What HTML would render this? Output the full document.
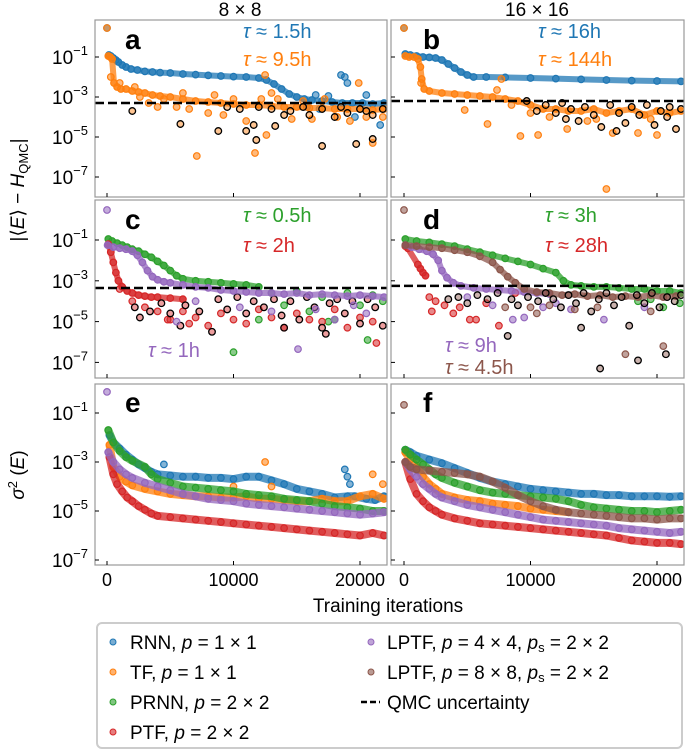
<!DOCTYPE html>
<html><head><meta charset="utf-8"><title>Training convergence chart</title>
<style>
html,body{margin:0;padding:0;background:#fff;}
svg{display:block;font-family:"Liberation Sans","DejaVu Sans",sans-serif;}
</style></head>
<body>
<svg id="chart" width="685" height="754" viewBox="0 0 685 754" xmlns="http://www.w3.org/2000/svg">
<text x="240" y="16" font-size="19" text-anchor="middle">8 × 8</text>
<text x="537" y="16" font-size="19" text-anchor="middle">16 × 16</text>
<text transform="translate(24,190) rotate(-90)" font-size="19" text-anchor="middle">|⟨<tspan font-style="italic">E</tspan>⟩ − <tspan font-style="italic">H</tspan><tspan font-size="13" dy="4">QMC</tspan><tspan dy="-4">|</tspan></text>
<text transform="translate(24,475) rotate(-90)" font-size="19" text-anchor="middle"><tspan font-style="italic">σ</tspan><tspan font-size="13" dy="-7">2</tspan><tspan dy="7"> (</tspan><tspan font-style="italic">E</tspan>)</text>
<text x="388" y="612" font-size="19" text-anchor="middle">Training iterations</text>
<g id="panels"></g>
<g>
<rect x="97" y="623" width="585" height="125" rx="5" fill="#fff" stroke="#ccc" stroke-width="2"/>
<g><circle cx="113" cy="642" r="3" fill="#1f77b4" fill-opacity="0.6" stroke="#1f77b4"/><text x="130" y="649" font-size="19">RNN, <tspan font-style="italic">p</tspan> = 1 × 1</text></g>
<g><circle cx="113" cy="672" r="3" fill="#ff7f0e" fill-opacity="0.6" stroke="#ff7f0e"/><text x="130" y="679" font-size="19">TF, <tspan font-style="italic">p</tspan> = 1 × 1</text></g>
<g><circle cx="113" cy="702" r="3" fill="#2ca02c" fill-opacity="0.6" stroke="#2ca02c"/><text x="130" y="709" font-size="19">PRNN, <tspan font-style="italic">p</tspan> = 2 × 2</text></g>
<g><circle cx="113" cy="732" r="3" fill="#d62728" fill-opacity="0.6" stroke="#d62728"/><text x="130" y="739" font-size="19">PTF, <tspan font-style="italic">p</tspan> = 2 × 2</text></g>
<g><circle cx="371" cy="642" r="3" fill="#9467bd" fill-opacity="0.6" stroke="#9467bd"/><text x="387" y="649" font-size="19">LPTF, <tspan font-style="italic">p</tspan> = 4 × 4, <tspan font-style="italic">p</tspan><tspan font-size="13" dy="3">s</tspan><tspan dy="-3"> = 2 × 2</tspan></text></g>
<g><circle cx="371" cy="672" r="3" fill="#8c564b" fill-opacity="0.6" stroke="#8c564b"/><text x="387" y="679" font-size="19">LPTF, <tspan font-style="italic">p</tspan> = 8 × 8, <tspan font-style="italic">p</tspan><tspan font-size="13" dy="3">s</tspan><tspan dy="-3"> = 2 × 2</tspan></text></g>
<g><line x1="361" y1="702" x2="380" y2="702" stroke="#000" stroke-width="2.5" stroke-dasharray="6,3"/><text x="387" y="709" font-size="19">QMC uncertainty</text></g>
</g>
</svg>
<script>
// ---------- data (iterations in thousands, values as log10) ----------
const xTicks=[0,10,20];
const xTickLabels=["0","10000","20000"];
const yTicks=[-1,-3,-5,-7];
const yTickLabels=["−1","−3","−5","−7"];
const qmcLevels={a:-3.3,b:-3.2,c:-3.35,d:-3.25};

const aRNNcurve=[[0.15,-0.9],[0.3,-0.95],[0.5,-1.05],[0.7,-1.15],[0.9,-1.25],[1.2,-1.4],[1.5,-1.5],[1.9,-1.6],[2.4,-1.65],[3,-1.72],[3.6,-1.75],[4.2,-1.78],[5,-1.8],[6,-1.85],[7,-1.88],[8,-1.92],[9,-1.95],[10,-1.98],[11,-2.0],[12,-2.05],[12.6,-2.15],[13.2,-2.35],[13.8,-2.6],[14.4,-2.85],[15,-3.0],[15.6,-3.1],[16.2,-3.15],[17,-3.2],[17.8,-3.25],[18.6,-3.3],[19.4,-3.3],[20.2,-3.3],[21,-3.35],[21.9,-3.3]];
const aRNNscatter=[[0,0.45],[18.5,-1.9],[18.8,-2.0],[19.0,-2.3],[16.5,-2.9],[17.5,-2.95],[20.5,-2.9],[19.6,-4.0],[21.6,-4.4],[15.8,-3.5],[16.8,-3.6]];
const aTFcurve=[[0.1,-0.95],[0.25,-1.0],[0.4,-1.1],[0.55,-2.3],[0.8,-2.5],[1.1,-2.6],[1.5,-2.6],[2,-2.7],[2.5,-2.75],[3,-2.8],[3.6,-2.9],[4.2,-2.95],[5,-3.0],[6,-3.1],[7,-3.2],[8,-3.25],[9,-3.3],[10,-3.35],[11,-3.4],[12,-3.4],[13,-3.45],[14,-3.5],[15,-3.5],[16,-3.55],[17,-3.55],[18,-3.6],[19,-3.6],[20,-3.6],[21,-3.65],[21.9,-3.6]];
const aTFscatter=[[0,0.45],[0.3,-2.0],[1.0,-2.3],[2.2,-2.5],[3.3,-3.3],[4.0,-3.5],[5.5,-3.5],[6.5,-3.6],[7.1,-5.95],[8,-3.8],[9.2,-3.9],[10,-3.1],[11.7,-5.8],[11,-4.2],[12.5,-1.9],[13.5,-3.1],[12.6,-4.9],[14.6,-4.1],[15.5,-3.2],[16.2,-4.1],[17.2,-3.1],[18.2,-4.0],[19.2,-4.2],[19.9,-2.3],[20.5,-4.0],[21.0,-5.3],[21.8,-4.0],[2.6,-3.0],[4.5,-3.1],[6,-2.8],[8.5,-2.9],[12.2,-3.1],[13,-2.8]];
const aNeg=[[2.0,-3.7],[5.8,-4.35],[8.8,-4.7],[11.0,-4.7],[11.6,-4.4],[11.8,-5.15],[13.3,-4.45],[17.0,-5.45],[19.7,-5.35],[21.0,-5.1],[9.5,-3.5],[10.5,-3.6],[12.0,-3.5],[13.0,-3.6],[14.5,-3.7],[15.5,-3.5],[16.0,-3.9],[17.0,-3.6],[18.0,-4.0],[18.5,-3.5],[19.0,-3.8],[20.0,-3.6],[21.0,-3.9],[21.8,-3.6],[14.0,-3.9],[20.5,-3.7]];

const bRNNcurve=[[0.1,-0.85],[0.5,-0.9],[1,-0.95],[1.5,-1.0],[2,-1.02],[2.5,-1.05],[3,-1.15],[3.5,-1.35],[4,-1.55],[4.5,-1.75],[5,-1.9],[5.5,-2.0],[6.5,-2.0],[8,-2.02],[10,-2.05],[12,-2.08],[14,-2.12],[16,-2.15],[18,-2.18],[20,-2.2],[21.9,-2.22]];
const bRNNscatter=[[0,0.45]];
const bTFcurve=[[0.1,-0.95],[0.4,-1.0],[0.8,-1.0],[1.1,-1.1],[1.3,-1.5],[1.4,-2.1],[1.6,-2.6],[2,-2.7],[3,-2.8],[4,-2.85],[5,-2.9],[6,-2.95],[7,-3.0],[8,-3.1],[9,-3.2],[10,-3.4],[11,-3.6],[12,-3.6],[13,-3.7],[14,-3.7],[15,-3.6],[16,-3.8],[17,-3.7],[18,-3.6],[19,-3.9],[20,-3.7],[21,-3.8],[21.9,-3.7]];
const bTFscatter=[[0,0.45],[1.35,-2.3],[4.8,-3.65],[6.6,-4.35],[7.35,-2.65],[7.7,-2.1],[9.2,-4.95],[10.6,-4.9],[12.9,-4.6],[16,-7.6],[11.5,-4.0],[14.5,-4.2],[16.5,-4.8],[18.5,-4.8],[20,-4.9],[8.5,-3.4],[10,-3.8],[15.2,-4.1],[19.5,-4.1]];
const bNeg=[[9.7,-3.2],[10.5,-3.7],[11.2,-3.4],[12,-3.8],[12.5,-3.3],[13.2,-3.6],[13.8,-4.2],[14.3,-3.5],[15,-3.9],[15.6,-4.5],[16.3,-3.4],[17,-3.8],[17.5,-4.3],[18,-3.5],[18.6,-3.9],[19.2,-3.4],[19.8,-4.4],[20.3,-3.7],[21,-3.5],[21.5,-4.6],[21.9,-3.6],[16.8,-4.7],[12.8,-4.1],[20.8,-4.0]];

const cPRNNcurve=[[0.1,-0.95],[0.4,-1.05],[0.8,-1.15],[1.2,-1.25],[1.6,-1.35],[2,-1.45],[2.5,-1.55],[3,-1.7],[3.5,-1.85],[4,-2.05],[4.5,-2.25],[5,-2.5],[5.5,-2.75],[6,-2.9],[7,-3.0],[8,-3.05],[9,-3.1],[10,-3.15],[11,-3.2],[12,-3.3]];
const cPRNNscatter=[[10,-6.5],[13,-3.6],[14,-4.2],[15,-3.5],[16,-4.5],[17,-3.8],[18,-4.9],[19,-3.6],[20,-4.2],[21,-3.7],[21.8,-4.0],[12,-4.9],[17.5,-5.0],[20.6,-5.9]];
const cPTFcurve=[[0.1,-1.2],[0.3,-1.6],[0.5,-2.1],[0.7,-2.6],[0.9,-3.0],[1.2,-3.3],[1.6,-3.5],[2,-3.6],[2.5,-3.7],[3,-3.75],[3.5,-3.8],[4,-3.8],[5,-3.85],[6,-3.9]];
const cPTFscatter=[[1,-3.4],[2,-4.0],[3,-4.3],[4,-4.5],[5,-4.9],[6,-4.5],[7,-4.8],[8,-5.2],[9,-4.6],[10,-4.9],[11,-5.1],[12,-4.4],[13,-4.8],[14,-5.3],[15,-4.6],[16,-4.9],[17,-5.0],[18,-4.4],[19,-5.3],[20,-4.8],[21,-5.0],[21.3,-6.05],[4.8,-4.9],[6.5,-5.1]];
const cLPTFcurve=[[0.05,-1.25],[0.5,-1.35],[1,-1.4],[1.5,-1.45],[2,-1.55],[2.4,-1.75],[2.8,-2.1],[3.2,-2.5],[3.6,-2.8],[4,-2.95],[4.5,-3.05],[5,-3.1],[6,-3.2],[7,-3.3],[8,-3.35],[9,-3.45],[10,-3.5],[11,-3.55],[12,-3.6],[13,-3.6],[14,-3.65],[15,-3.6],[16,-3.7],[17,-3.65],[18,-3.7],[19,-3.75],[20,-3.7],[21,-3.75],[21.9,-3.8]];
const cLPTFscatter=[[0,0.47],[15.1,-6.35],[16.5,-4.4],[18,-4.9],[19.5,-4.2],[20.5,-4.6],[13,-4.5],[10.5,-4.3],[7,-4.0],[5.5,-5.0]];
const cNeg=[[2.2,-4.3],[2.6,-4.8],[3.4,-4.5],[4.3,-4.1],[5.0,-4.6],[5.8,-5.2],[6.2,-4.2],[7.3,-4.5],[8.3,-5.5],[8.8,-3.9],[9.5,-4.4],[10.3,-3.8],[11,-4.6],[11.6,-4.0],[12.4,-4.3],[13.2,-3.9],[13.8,-4.7],[14.5,-4.0],[15.2,-4.9],[15.8,-3.8],[16.4,-4.3],[17,-5.3],[17.6,-4.1],[18.2,-3.9],[18.8,-4.6],[19.4,-4.0],[20,-5.1],[20.6,-3.9],[21.2,-4.3],[21.8,-5.2],[17.3,-5.6],[14.0,-5.3]];

const dPRNNcurve=[[0.1,-0.95],[1,-1.05],[2,-1.12],[3,-1.2],[4,-1.3],[5,-1.45],[6,-1.6],[7,-1.75],[8,-1.9],[9,-2.05],[10,-2.2],[11,-2.4],[12,-2.6],[12.6,-3.0],[13.2,-3.2],[14,-3.25],[15,-3.3],[16,-3.3],[17,-3.35],[18,-3.4],[19,-3.4],[20,-3.5],[21,-3.5],[21.9,-3.6]];
const dPRNNscatter=[[20.5,-4.3],[21.8,-4.1],[19.5,-3.9],[18.5,-4.0]];
const dPTFcurve=[[0.1,-1.3],[0.3,-1.4],[1.1,-2.2],[1.3,-2.4],[1.5,-2.6],[1.7,-2.75]];
const dPTFscatter=[[2.0,-3.8],[2.5,-4.0],[2.2,-4.5],[3.2,-4.2],[3.9,-4.6],[4.4,-4.3],[5.2,-4.9],[5.7,-4.9],[6.5,-4.1],[7.5,-5.2],[8.8,-3.6]];
const dLPTF44curve=[[0.1,-1.25],[0.6,-1.35],[1.2,-1.45],[1.8,-1.55],[2.3,-1.7],[2.7,-2.0],[3.0,-2.5],[3.4,-2.85],[3.9,-3.1],[4.5,-3.25],[5.5,-3.35],[6.5,-3.4],[7.5,-3.45],[8.5,-3.5],[9.5,-3.55],[10.5,-3.6],[11.5,-3.65]];
const dLPTF44scatter=[[5,-3.8],[7,-4.2],[8.6,-4.9],[9.5,-4.8],[11,-4.3],[12,-4.1],[13.2,-4.4],[15.8,-4.9],[19,-4.3]];
const dLPTF88curve=[[0.1,-1.25],[1,-1.3],[2,-1.35],[3,-1.4],[4,-1.5],[5,-1.6],[6,-1.8],[7,-2.1],[7.6,-2.45],[8.2,-2.8],[8.8,-3.1],[9.5,-3.4],[10.5,-3.55],[11.5,-3.6],[12.5,-3.7],[13.5,-3.65],[14.5,-3.75],[15.5,-3.7],[16.5,-3.8],[17.5,-3.75],[18.5,-3.8],[19.5,-3.7],[20.5,-3.8],[21.5,-3.75]];
const dLPTF88scatter=[[0,0.47],[10,-4.3],[10.5,-4.6],[11.5,-4.2],[13.5,-4.4],[15.3,-4.3],[17.5,-6.6],[19.5,-4.5],[8,-4.3],[20.5,-6.2]];
const dNeg=[[3.5,-3.9],[4.3,-3.8],[5,-4.1],[5.8,-3.7],[6.6,-3.9],[7.4,-3.6],[8.5,-3.9],[9,-4.2],[9.8,-3.8],[10.6,-4.0],[11.2,-3.6],[11.8,-3.9],[12.4,-4.3],[13,-3.7],[13.6,-4.1],[14.2,-3.6],[14.8,-4.5],[15.4,-3.9],[16,-3.6],[16.6,-4.2],[17.2,-3.8],[17.8,-5.2],[18.4,-3.7],[19,-4.1],[19.6,-3.6],[20.2,-4.3],[20.8,-3.8],[21.4,-4.0],[21.9,-3.7],[15.5,-7.3],[18.5,-6.9],[20.7,-6.6],[8.2,-5.7],[14,-5.3]];

const eStart=[[0,-0.14]];
const eRNN=[[0.2,-1.9],[0.5,-2.2],[1,-2.45],[1.5,-2.7],[2,-2.9],[2.5,-3.1],[3,-3.25],[3.5,-3.4],[4,-3.5],[5,-3.55],[6,-3.6],[7,-3.6],[8,-3.65],[9,-3.65],[10,-3.7],[11,-3.6],[12,-3.6],[13,-3.75],[14,-3.9],[15,-4.1],[16,-4.2],[17,-4.3],[18,-4.45],[19,-4.4],[19.6,-4.4],[20.5,-4.5],[21.2,-4.55],[21.9,-4.4]];
const eRNNscatter=[[18.8,-3.3],[19.0,-3.6],[19.2,-3.9],[4.5,-3.1]];
const eTF=[[0.2,-2.3],[0.5,-3.2],[1,-3.6],[1.5,-3.8],[2,-3.95],[3,-4.1],[4,-4.2],[5,-4.3],[6,-4.35],[7,-4.4],[8,-4.4],[9,-4.45],[10,-4.45],[11,-4.4],[12,-4.5],[13,-4.5],[14,-4.55],[15,-4.6],[16,-4.6],[17,-4.5],[18,-4.6],[19,-4.6],[20,-4.4],[21,-4.3],[21.9,-4.5]];
const eTFscatter=[[12.5,-3.0],[21.0,-3.5],[21.8,-3.9],[10,-4.0],[13,-4.0]];
const ePRNN=[[0.1,-1.7],[0.5,-2.2],[1,-2.55],[1.5,-2.8],[2,-2.95],[3,-3.2],[3.5,-3.5],[4,-3.7],[5,-3.85],[6,-4.0],[7,-4.05],[8,-4.1],[9,-4.15],[10,-4.2],[11,-4.3],[12,-4.35],[13,-4.4],[14,-4.5],[15,-4.55],[16,-4.6],[17,-4.7],[18,-4.8],[19,-4.85],[20,-4.9],[21,-5.0],[21.9,-5.0]];
const ePTF=[[0.2,-2.8],[0.5,-3.5],[0.8,-3.9],[1.2,-4.2],[1.6,-4.45],[2,-4.6],[2.5,-4.8],[3,-4.95],[3.5,-5.1],[4,-5.2],[5,-5.25],[6,-5.3],[7,-5.35],[8,-5.4],[9,-5.45],[10,-5.5],[11,-5.55],[12,-5.6],[13,-5.65],[14,-5.7],[15,-5.75],[16,-5.8],[17,-5.85],[18,-5.9],[19,-5.95],[20,-6.0],[21,-5.9],[21.9,-6.0]];
const eLPTF=[[0.1,-2.6],[0.5,-3.0],[1,-3.3],[1.5,-3.5],[2,-3.65],[3,-3.85],[4,-4.0],[5,-4.15],[6,-4.3],[7,-4.4],[8,-4.5],[9,-4.55],[10,-4.6],[11,-4.7],[12,-4.75],[13,-4.8],[14,-4.85],[15,-4.9],[16,-4.95],[17,-5.0],[18,-5.05],[19,-5.1],[20,-5.15],[21,-5.1],[21.9,-5.05]];

const fStart=[[0,-0.67]];
const fRNN=[[0.1,-2.5],[0.5,-2.6],[1,-2.75],[2,-2.9],[3,-3.05],[4,-3.25],[5,-3.45],[6,-3.65],[7,-3.8],[8,-3.9],[9,-4.0],[10,-4.1],[11,-4.15],[12,-4.2],[13,-4.25],[14,-4.3],[15,-4.3],[16,-4.35],[17,-4.35],[18,-4.4],[19,-4.4],[20,-4.4],[21,-4.42],[21.9,-4.4]];
const fTF=[[0.1,-2.6],[0.5,-2.9],[1,-3.2],[1.5,-3.6],[2,-3.9],[2.5,-4.1],[3,-4.3],[4,-4.45],[5,-4.55],[6,-4.6],[7,-4.7],[8,-4.75],[9,-4.8],[10,-4.9],[11,-4.95],[12,-5.0],[13,-5.05]];
const fPRNN=[[0.1,-2.5],[0.5,-2.7],[1,-2.9],[1.5,-3.1],[2,-3.3],[2.5,-3.5],[3,-3.65],[4,-3.85],[5,-4.0],[6,-4.15],[7,-4.25],[8,-4.3],[9,-4.35],[10,-4.4],[11,-4.45],[12,-4.5],[13,-4.6],[14,-4.75],[15,-4.85],[16,-4.9],[17,-4.95],[18,-5.0],[19,-5.0],[20,-5.05],[21,-5.0],[21.9,-4.95]];
const fPTF=[[0.1,-3.0],[0.5,-3.7],[1,-4.3],[1.5,-4.6],[2,-4.85],[2.5,-5.0],[3,-5.15],[4,-5.3],[5,-5.4],[6,-5.5],[7,-5.55],[8,-5.6],[9,-5.65],[10,-5.7],[11,-5.75],[12,-5.8],[13,-5.85],[14,-5.9],[15,-5.95],[16,-6.0],[17,-6.1],[18,-6.2],[19,-6.25],[20,-6.3],[21,-6.3],[21.9,-6.35]];
const fLPTF44=[[0.1,-3.0],[0.5,-3.3],[1,-3.6],[1.5,-3.9],[2,-4.1],[2.5,-4.3],[3,-4.45],[4,-4.6],[5,-4.75],[6,-4.85],[7,-4.95],[8,-5.05],[9,-5.15],[10,-5.25],[11,-5.35],[12,-5.4],[13,-5.45],[14,-5.5],[15,-5.55],[16,-5.6],[17,-5.7],[18,-5.75],[19,-5.8],[20,-5.85],[21,-5.9],[21.9,-5.85]];
const fLPTF88=[[0.1,-3.0],[0.5,-3.2],[1,-3.3],[2,-3.35],[3,-3.4],[4,-3.45],[5,-3.5],[6,-3.6],[7,-3.8],[8,-4.05],[9,-4.35],[10,-4.6],[11,-4.8],[12,-4.95],[13,-5.05],[14,-5.1],[15,-5.15],[16,-5.2],[17,-5.25],[18,-5.3],[19,-5.3],[20,-5.35],[21,-5.3],[21.9,-5.3]];

// ---------- layout ----------
const C={blue:"#1f77b4",orange:"#ff7f0e",green:"#2ca02c",red:"#d62728",purple:"#9467bd",brown:"#8c564b"};
const panels=[
 {id:"a",left:95,right:387,top:20,bottom:197,x0:107,y1:57,ppd:20,yLabels:true},
 {id:"b",left:391,right:684,top:20,bottom:197,x0:404,y1:57,ppd:20,yLabels:false},
 {id:"c",left:95,right:387,top:200,bottom:378,x0:107,y1:240,ppd:20.4,yLabels:true},
 {id:"d",left:391,right:684,top:200,bottom:378,x0:404,y1:240,ppd:20.4,yLabels:false},
 {id:"e",left:95,right:387,top:384,bottom:565,x0:107,y1:413,ppd:24.5,yLabels:true,xLabels:true},
 {id:"f",left:391,right:684,top:384,bottom:565,x0:404,y1:413,ppd:24.5,yLabels:false,xLabels:true}
];
const series={
 a:[{n:"rnn",c:C.blue,curve:aRNNcurve,sc:aRNNscatter},{n:"tf",c:C.orange,curve:aTFcurve,sc:aTFscatter,neg:aNeg}],
 b:[{n:"rnn",c:C.blue,curve:bRNNcurve,sc:bRNNscatter},{n:"tf",c:C.orange,curve:bTFcurve,sc:bTFscatter,neg:bNeg}],
 c:[{n:"prnn",c:C.green,curve:cPRNNcurve,sc:cPRNNscatter},{n:"ptf",c:C.red,curve:cPTFcurve,sc:cPTFscatter,neg:cNeg},{n:"lptf",c:C.purple,curve:cLPTFcurve,sc:cLPTFscatter}],
 d:[{n:"prnn",c:C.green,curve:dPRNNcurve,sc:dPRNNscatter},{n:"ptf",c:C.red,curve:dPTFcurve,sc:dPTFscatter},{n:"lptf44",c:C.purple,curve:dLPTF44curve,sc:dLPTF44scatter},{n:"lptf88",c:C.brown,curve:dLPTF88curve,sc:dLPTF88scatter,neg:dNeg}],
 e:[{n:"rnn",c:C.blue,curve:eRNN,sc:eRNNscatter},{n:"tf",c:C.orange,curve:eTF,sc:eTFscatter},{n:"prnn",c:C.green,curve:ePRNN,sc:[]},{n:"ptf",c:C.red,curve:ePTF,sc:[]},{n:"lptf",c:C.purple,curve:eLPTF,sc:eStart}],
 f:[{n:"rnn",c:C.blue,curve:fRNN,sc:[]},{n:"tf",c:C.orange,curve:fTF,sc:[]},{n:"prnn",c:C.green,curve:fPRNN,sc:[]},{n:"ptf",c:C.red,curve:fPTF,sc:[]},{n:"lptf44",c:C.purple,curve:fLPTF44,sc:[]},{n:"lptf88",c:C.brown,curve:fLPTF88,sc:fStart}]
};
const labels={
 a:[["τ ≈ 1.5h",243,38,C.blue],["τ ≈ 9.5h",243,66,C.orange]],
 b:[["τ ≈ 16h",538,38,C.blue],["τ ≈ 144h",538,66,C.orange]],
 c:[["τ ≈ 0.5h",243,222,C.green],["τ ≈ 2h",243,252,C.red],["τ ≈ 1h",148,357,C.purple]],
 d:[["τ ≈ 3h",545,222,C.green],["τ ≈ 28h",545,252,C.red],["τ ≈ 9h",445,352,C.purple],["τ ≈ 4.5h",445,374,C.brown]]
};
const NS="http://www.w3.org/2000/svg";
const svg=document.getElementById("chart");
const root=document.getElementById("panels");
function el(t,a,parent){const e=document.createElementNS(NS,t);for(const k in a)e.setAttribute(k,a[k]);parent.appendChild(e);return e;}
function sx(p,k){return p.x0+k*12.65;}
function sy(p,l){return p.y1-(l+1)*p.ppd;}
const defs=el("defs",{},svg);
panels.forEach(p=>{
 const cp=el("clipPath",{id:"clip-"+p.id},defs);
 el("rect",{x:p.left,y:p.top,width:p.right-p.left,height:p.bottom-p.top},cp);
 const g=el("g",{},root);
 
 
 const plot=el("g",{"clip-path":"url(#clip-"+p.id+")"},g);
 
 
 const ss=series[p.id];
 ss.forEach(s=>{
  const sg=el("g",{},plot);
  
  
  const pts=s.curve.map(d=>sx(p,d[0]).toFixed(1)+","+sy(p,d[1]).toFixed(1)).join(" ");
  const band=el("polyline",{points:pts,fill:"none",stroke:s.c,"stroke-opacity":"0.75","stroke-width":p.id==="e"||p.id==="f"?"8":"6","stroke-linejoin":"round","stroke-linecap":"round"},sg);
  
  
  s.curve.concat(s.sc).forEach(d=>{
   const c=el("circle",{cx:sx(p,d[0]).toFixed(1),cy:sy(p,d[1]).toFixed(1),r:"3.3",fill:s.c,"fill-opacity":"0.55",stroke:s.c,"stroke-width":"1.2"},sg);
   
   
  });
  (s.neg||[]).forEach(d=>{
   const c=el("circle",{cx:sx(p,d[0]).toFixed(1),cy:sy(p,d[1]).toFixed(1),r:"3.3",fill:s.c,"fill-opacity":"0.45",stroke:"#000","stroke-width":"1.3"},sg);
   
   
  });
 });
 if(qmcLevels[p.id]!==undefined){
  const y=sy(p,qmcLevels[p.id]);
  const ln=el("line",{x1:p.left,x2:p.right,y1:y,y2:y,stroke:"#000","stroke-width":"2.5","stroke-dasharray":"9,4"},g);
  
  
 }
 const fr=el("rect",{x:p.left,y:p.top,width:p.right-p.left,height:p.bottom-p.top,fill:"none",stroke:"#999","stroke-width":"1.2"},g);
 
 
 yTicks.forEach((t,i)=>{
  const y=sy(p,t);
  const tk=el("line",{x1:p.left,x2:p.left+4,y1:y,y2:y,stroke:"#000","stroke-width":"1"},g);
  
  
  if(p.yLabels){
   const tx=el("text",{x:p.left-7,y:y+7,"font-size":"19","text-anchor":"end"},g);
   
   
   tx.appendChild(document.createTextNode("10"));
   const sp=el("tspan",{"font-size":"13",dy:"-9"},tx);
   sp.textContent=yTickLabels[i];
  }
 });
 xTicks.forEach((t,i)=>{
  const x=sx(p,t);
  const tk=el("line",{x1:x,x2:x,y1:p.bottom,y2:p.bottom-4,stroke:"#000","stroke-width":"1"},g);
  
  
  if(p.xLabels){
   const tx=el("text",{x:x,y:586,"font-size":"18","text-anchor":"middle"},g);
   
   
   tx.textContent=xTickLabels[i];
  }
 });
 const lt=el("text",{x:p.left+(p.left<200?30:32),y:p.top+(p.id==="e"||p.id==="f"?28:29),"font-size":"28","font-weight":"bold"},g);
 
 
 lt.textContent=p.id;
 (labels[p.id]||[]).forEach(L=>{
  const tx=el("text",{x:L[1],y:L[2],"font-size":"20",fill:L[3]},g);
  
  
  const t1=el("tspan",{"font-style":"italic"},tx);t1.textContent="τ";
  const t2=el("tspan",{},tx);t2.textContent=L[0].slice(1);
 });
});
</script>
</body></html>
